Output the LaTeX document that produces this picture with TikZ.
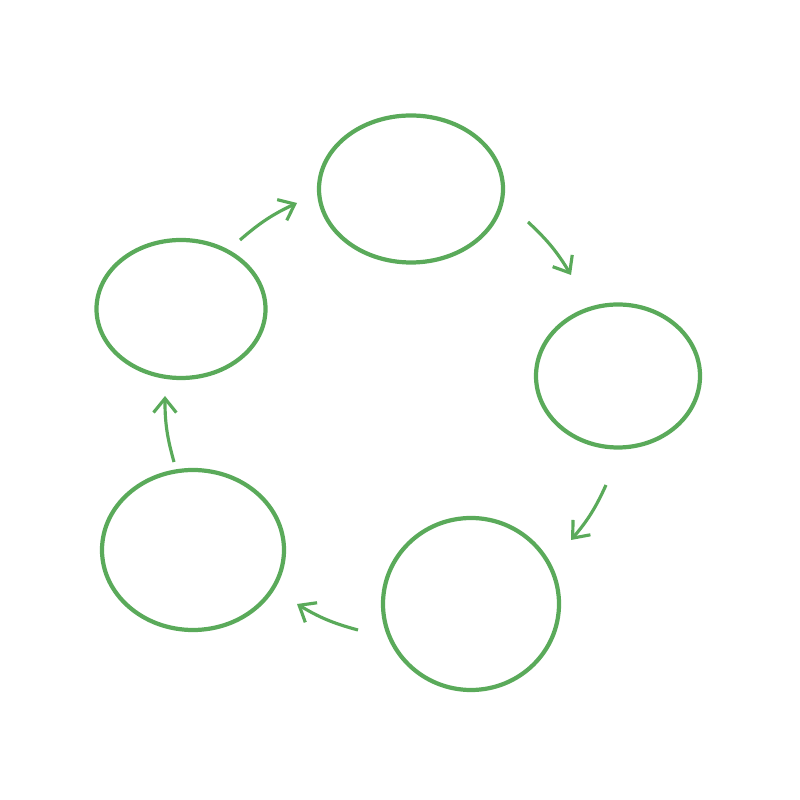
\documentclass[tikz,border=0pt]{standalone}
\usepackage{tikz}
\usetikzlibrary{shapes.geometric,arrows.meta}
\definecolor{chalk}{RGB}{90,170,90}

\begin{document}
\begin{tikzpicture}[
    blob/.style={ellipse, draw=chalk, line width=1.2pt, inner sep=0pt},
    flow/.style={draw=chalk, line width=0.9pt, -{Straight Barb[length=4pt,width=6.5pt]}, bend left=8},
  ]
  \useasboundingbox (0,0) rectangle (8,8);

  \node [blob, minimum width=1.84cm, minimum height=1.47cm] (e1) at (4.11,6.11) {};
  \node [blob, minimum width=1.64cm, minimum height=1.43cm] (e2) at (6.18,4.24) {};
  \node [blob, minimum width=1.76cm, minimum height=1.72cm] (e3) at (4.71,1.96) {};
  \node [blob, minimum width=1.82cm, minimum height=1.60cm] (e4) at (1.93,2.50) {};
  \node [blob, minimum width=1.69cm, minimum height=1.38cm] (e5) at (1.81,4.91) {};

  \coordinate (a1) at (2.40,5.60);
  \coordinate (b1) at (2.97,5.97);
  \coordinate (a2) at (5.28,5.78);
  \coordinate (b2) at (5.71,5.25);
  \coordinate (a3) at (6.06,3.15);
  \coordinate (b3) at (5.71,2.60);
  \coordinate (a4) at (3.58,1.70);
  \coordinate (b4) at (2.97,1.96);
  \coordinate (a5) at (1.74,3.38);
  \coordinate (b5) at (1.65,4.04);

  \foreach \i in {1,...,5}
    \draw [flow] (a\i) to (b\i);
\end{tikzpicture}
\end{document}
